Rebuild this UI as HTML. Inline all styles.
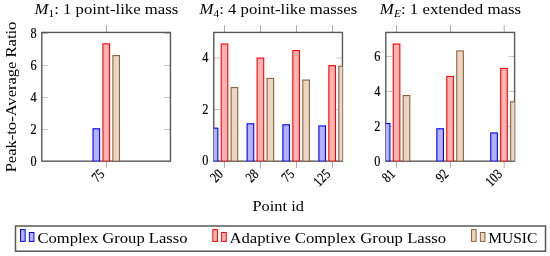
<!DOCTYPE html><html><head><meta charset="utf-8"><style>html,body{margin:0;padding:0;background:#fff;width:550px;height:256px;overflow:hidden}svg{display:block}text{font-family:"Liberation Serif", "DejaVu Serif", serif;fill:#000}.tk{stroke:#000;stroke-width:0.2px}</style></head><body>
<svg width="550" height="256" viewBox="0 0 550 256">
<defs>
<clipPath id="c0"><rect x="41.80" y="32.43" width="128.65" height="128.72"/></clipPath>
<clipPath id="c1"><rect x="213.75" y="32.43" width="128.70" height="128.72"/></clipPath>
<clipPath id="c2"><rect x="385.80" y="32.43" width="128.80" height="128.72"/></clipPath>
</defs>
<g stroke="#c4c4c4" stroke-width="1"><line x1="41.80" y1="161.50" x2="48.00" y2="161.50"/><line x1="164.25" y1="161.50" x2="170.45" y2="161.50"/><line x1="41.80" y1="129.50" x2="48.00" y2="129.50"/><line x1="164.25" y1="129.50" x2="170.45" y2="129.50"/><line x1="41.80" y1="97.50" x2="48.00" y2="97.50"/><line x1="164.25" y1="97.50" x2="170.45" y2="97.50"/><line x1="41.80" y1="65.50" x2="48.00" y2="65.50"/><line x1="164.25" y1="65.50" x2="170.45" y2="65.50"/><line x1="41.80" y1="33.50" x2="48.00" y2="33.50"/><line x1="164.25" y1="33.50" x2="170.45" y2="33.50"/><line x1="106.40" y1="32.43" x2="106.40" y2="25.23" stroke="#acacac"/><line x1="106.40" y1="161.15" x2="106.40" y2="167.75" stroke="#acacac"/></g>
<rect x="41.80" y="32.43" width="128.65" height="128.72" fill="none" stroke="#595959" stroke-width="1.4"/>
<g clip-path="url(#c0)"><rect x="93.00" y="128.80" width="6.60" height="32.35" fill="#b3b3ff" stroke="#0000ff" stroke-width="1.10"/><rect x="102.95" y="43.85" width="6.60" height="117.30" fill="#ffb3b3" stroke="#ff0000" stroke-width="1.10"/><rect x="112.90" y="55.55" width="6.60" height="105.60" fill="#ead6c2" stroke="#8c6238" stroke-width="1.10"/></g>
<text class="tk" x="36.50" y="166.00" font-size="13.60" text-anchor="end" transform="translate(36.50 0) scale(0.9000 1) translate(-36.50 0)">0</text>
<text class="tk" x="36.50" y="134.00" font-size="13.60" text-anchor="end" transform="translate(36.50 0) scale(0.9000 1) translate(-36.50 0)">2</text>
<text class="tk" x="36.50" y="102.00" font-size="13.60" text-anchor="end" transform="translate(36.50 0) scale(0.9000 1) translate(-36.50 0)">4</text>
<text class="tk" x="36.50" y="70.00" font-size="13.60" text-anchor="end" transform="translate(36.50 0) scale(0.9000 1) translate(-36.50 0)">6</text>
<text class="tk" x="36.50" y="38.00" font-size="13.60" text-anchor="end" transform="translate(36.50 0) scale(0.9000 1) translate(-36.50 0)">8</text>
<text class="tk" transform="translate(102.10 171.75) rotate(-45) scale(0.810 1)" font-size="14.20" text-anchor="end" x="0" y="4.5">75</text>
<g stroke="#c4c4c4" stroke-width="1"><line x1="213.75" y1="161.00" x2="219.95" y2="161.00"/><line x1="336.25" y1="161.00" x2="342.45" y2="161.00"/><line x1="213.75" y1="109.50" x2="219.95" y2="109.50"/><line x1="336.25" y1="109.50" x2="342.45" y2="109.50"/><line x1="213.75" y1="58.00" x2="219.95" y2="58.00"/><line x1="336.25" y1="58.00" x2="342.45" y2="58.00"/><line x1="224.50" y1="32.43" x2="224.50" y2="25.23" stroke="#acacac"/><line x1="224.50" y1="161.15" x2="224.50" y2="167.75" stroke="#acacac"/><line x1="260.50" y1="32.43" x2="260.50" y2="25.23" stroke="#acacac"/><line x1="260.50" y1="161.15" x2="260.50" y2="167.75" stroke="#acacac"/><line x1="296.50" y1="32.43" x2="296.50" y2="25.23" stroke="#acacac"/><line x1="296.50" y1="161.15" x2="296.50" y2="167.75" stroke="#acacac"/><line x1="332.50" y1="32.43" x2="332.50" y2="25.23" stroke="#acacac"/><line x1="332.50" y1="161.15" x2="332.50" y2="167.75" stroke="#acacac"/></g>
<rect x="213.75" y="32.43" width="128.70" height="128.72" fill="none" stroke="#595959" stroke-width="1.4"/>
<g clip-path="url(#c1)"><rect x="211.25" y="128.15" width="6.60" height="33.00" fill="#b3b3ff" stroke="#0000ff" stroke-width="1.10"/><rect x="221.20" y="44.05" width="6.60" height="117.10" fill="#ffb3b3" stroke="#ff0000" stroke-width="1.10"/><rect x="231.15" y="87.55" width="6.60" height="73.60" fill="#ead6c2" stroke="#8c6238" stroke-width="1.10"/><rect x="247.15" y="123.80" width="6.60" height="37.35" fill="#b3b3ff" stroke="#0000ff" stroke-width="1.10"/><rect x="257.10" y="58.05" width="6.60" height="103.10" fill="#ffb3b3" stroke="#ff0000" stroke-width="1.10"/><rect x="267.05" y="78.45" width="6.60" height="82.70" fill="#ead6c2" stroke="#8c6238" stroke-width="1.10"/><rect x="282.90" y="124.80" width="6.60" height="36.35" fill="#b3b3ff" stroke="#0000ff" stroke-width="1.10"/><rect x="292.85" y="50.65" width="6.60" height="110.50" fill="#ffb3b3" stroke="#ff0000" stroke-width="1.10"/><rect x="302.80" y="80.05" width="6.60" height="81.10" fill="#ead6c2" stroke="#8c6238" stroke-width="1.10"/><rect x="318.90" y="125.95" width="6.60" height="35.20" fill="#b3b3ff" stroke="#0000ff" stroke-width="1.10"/><rect x="328.85" y="65.65" width="6.60" height="95.50" fill="#ffb3b3" stroke="#ff0000" stroke-width="1.10"/><rect x="338.80" y="66.25" width="6.60" height="94.90" fill="#ead6c2" stroke="#8c6238" stroke-width="1.10"/></g>
<text class="tk" x="208.45" y="165.50" font-size="13.60" text-anchor="end" transform="translate(208.45 0) scale(0.9000 1) translate(-208.45 0)">0</text>
<text class="tk" x="208.45" y="114.00" font-size="13.60" text-anchor="end" transform="translate(208.45 0) scale(0.9000 1) translate(-208.45 0)">2</text>
<text class="tk" x="208.45" y="62.50" font-size="13.60" text-anchor="end" transform="translate(208.45 0) scale(0.9000 1) translate(-208.45 0)">4</text>
<text class="tk" transform="translate(220.60 171.75) rotate(-45) scale(0.810 1)" font-size="14.20" text-anchor="end" x="0" y="4.5">20</text>
<text class="tk" transform="translate(256.20 171.75) rotate(-45) scale(0.810 1)" font-size="14.20" text-anchor="end" x="0" y="4.5">28</text>
<text class="tk" transform="translate(292.05 171.75) rotate(-45) scale(0.810 1)" font-size="14.20" text-anchor="end" x="0" y="4.5">75</text>
<text class="tk" transform="translate(328.00 171.75) rotate(-45) scale(0.810 1)" font-size="14.20" text-anchor="end" x="0" y="4.5">125</text>
<g stroke="#c4c4c4" stroke-width="1"><line x1="385.80" y1="161.50" x2="392.00" y2="161.50"/><line x1="508.40" y1="161.50" x2="514.60" y2="161.50"/><line x1="385.80" y1="126.50" x2="392.00" y2="126.50"/><line x1="508.40" y1="126.50" x2="514.60" y2="126.50"/><line x1="385.80" y1="91.50" x2="392.00" y2="91.50"/><line x1="508.40" y1="91.50" x2="514.60" y2="91.50"/><line x1="385.80" y1="56.50" x2="392.00" y2="56.50"/><line x1="508.40" y1="56.50" x2="514.60" y2="56.50"/><line x1="396.50" y1="32.43" x2="396.50" y2="25.23" stroke="#acacac"/><line x1="396.50" y1="161.15" x2="396.50" y2="167.75" stroke="#acacac"/><line x1="450.40" y1="32.43" x2="450.40" y2="25.23" stroke="#acacac"/><line x1="450.40" y1="161.15" x2="450.40" y2="167.75" stroke="#acacac"/><line x1="504.20" y1="32.43" x2="504.20" y2="25.23" stroke="#acacac"/><line x1="504.20" y1="161.15" x2="504.20" y2="167.75" stroke="#acacac"/></g>
<rect x="385.80" y="32.43" width="128.80" height="128.72" fill="none" stroke="#595959" stroke-width="1.4"/>
<g clip-path="url(#c2)"><rect x="383.30" y="123.55" width="6.60" height="37.60" fill="#b3b3ff" stroke="#0000ff" stroke-width="1.10"/><rect x="393.25" y="44.05" width="6.60" height="117.10" fill="#ffb3b3" stroke="#ff0000" stroke-width="1.10"/><rect x="403.20" y="95.55" width="6.60" height="65.60" fill="#ead6c2" stroke="#8c6238" stroke-width="1.10"/><rect x="436.85" y="128.80" width="6.60" height="32.35" fill="#b3b3ff" stroke="#0000ff" stroke-width="1.10"/><rect x="446.80" y="76.45" width="6.60" height="84.70" fill="#ffb3b3" stroke="#ff0000" stroke-width="1.10"/><rect x="456.75" y="50.95" width="6.60" height="110.20" fill="#ead6c2" stroke="#8c6238" stroke-width="1.10"/><rect x="490.75" y="132.95" width="6.60" height="28.20" fill="#b3b3ff" stroke="#0000ff" stroke-width="1.10"/><rect x="500.70" y="68.45" width="6.60" height="92.70" fill="#ffb3b3" stroke="#ff0000" stroke-width="1.10"/><rect x="510.65" y="101.85" width="6.60" height="59.30" fill="#ead6c2" stroke="#8c6238" stroke-width="1.10"/></g>
<text class="tk" x="380.50" y="166.00" font-size="13.60" text-anchor="end" transform="translate(380.50 0) scale(0.9000 1) translate(-380.50 0)">0</text>
<text class="tk" x="380.50" y="131.00" font-size="13.60" text-anchor="end" transform="translate(380.50 0) scale(0.9000 1) translate(-380.50 0)">2</text>
<text class="tk" x="380.50" y="96.00" font-size="13.60" text-anchor="end" transform="translate(380.50 0) scale(0.9000 1) translate(-380.50 0)">4</text>
<text class="tk" x="380.50" y="61.00" font-size="13.60" text-anchor="end" transform="translate(380.50 0) scale(0.9000 1) translate(-380.50 0)">6</text>
<text class="tk" transform="translate(392.50 171.75) rotate(-45) scale(0.810 1)" font-size="14.20" text-anchor="end" x="0" y="4.5">81</text>
<text class="tk" transform="translate(446.10 171.75) rotate(-45) scale(0.810 1)" font-size="14.20" text-anchor="end" x="0" y="4.5">92</text>
<text class="tk" transform="translate(499.90 171.75) rotate(-45) scale(0.810 1)" font-size="14.20" text-anchor="end" x="0" y="4.5">103</text>
<text x="106.45" y="14.10" font-size="15.40" text-anchor="middle" transform="translate(106.45 0) scale(1.0875 1) translate(-106.45 0)"><tspan font-style="italic">M</tspan><tspan font-size="10.5" dy="3.2">1</tspan><tspan dy="-3.2">: 1 point-like mass</tspan></text>
<text x="278.35" y="14.10" font-size="15.40" text-anchor="middle" transform="translate(278.35 0) scale(1.0875 1) translate(-278.35 0)"><tspan font-style="italic">M</tspan><tspan font-size="10.5" dy="3.2">4</tspan><tspan dy="-3.2">: 4 point-like masses</tspan></text>
<text x="450.50" y="14.10" font-size="15.40" text-anchor="middle" transform="translate(450.50 0) scale(1.0950 1) translate(-450.50 0)"><tspan font-style="italic">M</tspan><tspan font-size="10.5" dy="3.2" font-style="italic">E</tspan><tspan dy="-3.2">: 1 extended mass</tspan></text>
<text transform="translate(15.50 97.00) rotate(-90) scale(1.1104 1)" font-size="14.90" text-anchor="middle">Peak-to-Average Ratio</text>
<text x="278.20" y="210.60" font-size="15.30" text-anchor="middle" transform="translate(278.20 0) scale(1.0700 1) translate(-278.20 0)">Point id</text>
<rect x="15.5" y="226.0" width="530" height="25.2" fill="#fff" stroke="#595959" stroke-width="1.5"/>
<rect x="20.55" y="229.60" width="4.6" height="11.8" fill="#b3b3ff" stroke="#0000ff" stroke-width="1"/><rect x="29.35" y="232.50" width="4.6" height="8.9" fill="#b3b3ff" stroke="#0000ff" stroke-width="1"/>
<rect x="212.85" y="229.60" width="4.6" height="11.8" fill="#ffb3b3" stroke="#ff0000" stroke-width="1"/><rect x="221.65" y="232.50" width="4.6" height="8.9" fill="#ffb3b3" stroke="#ff0000" stroke-width="1"/>
<rect x="471.55" y="229.60" width="4.6" height="11.8" fill="#ead6c2" stroke="#8c6238" stroke-width="1"/><rect x="480.35" y="232.50" width="4.6" height="8.9" fill="#ead6c2" stroke="#8c6238" stroke-width="1"/>
<text x="37.45" y="242.90" font-size="15.30" transform="translate(37.45 0) scale(1.0842 1) translate(-37.45 0)">Complex Group Lasso</text>
<text x="229.40" y="242.90" font-size="15.30" transform="translate(229.40 0) scale(1.0927 1) translate(-229.40 0)">Adaptive Complex Group Lasso</text>
<text x="488.20" y="242.90" font-size="15.30" transform="translate(488.20 0) scale(1.0169 1) translate(-488.20 0)">MUSIC</text>
</svg></body></html>
